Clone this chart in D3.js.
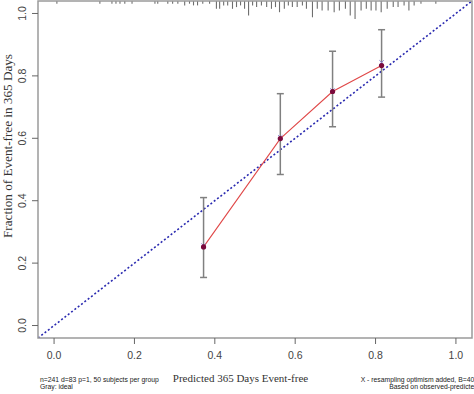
<!DOCTYPE html>
<html>
<head>
<meta charset="utf-8">
<script src="https://cdn.jsdelivr.net/npm/d3@7"></script>
<style>
  html, body { margin: 0; padding: 0; background: #fff; }
  svg { display: block; }
</style>
</head>
<body>
<svg id="chart" width="474" height="394"></svg>
<script>
// ---- data ----
const predicted = [0.372, 0.563, 0.693, 0.815];
const observed  = [0.252, 0.599, 0.750, 0.833];
const lower     = [0.154, 0.484, 0.637, 0.732];
const upper     = [0.410, 0.743, 0.879, 0.948];
const corrected = [0.256, 0.603, 0.753, 0.843];
const ticks = [0, 0.2, 0.4, 0.6, 0.8, 1.0];
const rugValues = [0.007,0.114,0.144,0.154,0.164,0.176,0.194,0.251,0.258,0.283,0.295,0.308,0.325,0.337,0.347,0.357,0.370,0.387,0.404,0.412,0.422,0.432,0.444,0.454,0.464,0.474,0.484,0.494,0.504,0.516,0.529,0.541,0.551,0.561,0.573,0.583,0.593,0.605,0.618,0.628,0.643,0.655,0.667,0.682,0.697,0.710,0.725,0.737,0.749,0.764,0.777,0.789,0.801,0.814,0.829,0.844,0.856,0.871,0.883,0.896,0.913,0.950];
const rugCounts = [1,1,1,1,1,1,1,1,1,1,1,1,2,1,2,2,1,1,4,4,2,2,4,3,2,4,8,2,3,2,3,4,3,6,4,2,3,3,2,4,9,4,5,5,6,5,4,8,10,5,4,5,5,6,4,3,3,2,5,2,1,1];
const xTitle = "Predicted 365 Days Event-free";
const yTitle = "Fraction of Event-free in 365 Days";
const noteLeft = ["n=241 d=83 p=1, 50 subjects per group", "Gray: ideal"];
const noteRight = ["X - resampling optimism added, B=400", "Based on observed-predicted"];

// ---- layout ----
const svg = d3.select("#chart");
const L = 38, R = 472, T = 1, B = 338;
const x = d3.scaleLinear().domain([-0.04, 1.04]).range([L, R]);
const y = d3.scaleLinear().domain([-0.04, 1.04]).range([B, T]);
const rugLen = d3.scaleLinear().domain([0, 10]).range([1, 18]);

svg.append("rect").attr("width", 474).attr("height", 394).attr("fill", "#fff");

svg.append("defs").append("clipPath").attr("id", "clip")
  .append("rect").attr("x", L).attr("y", T).attr("width", R - L).attr("height", B - T);

const plot = svg.append("g").attr("clip-path", "url(#clip)");

// rug spikes along top
plot.selectAll("line.rug").data(rugValues).join("line")
  .attr("class", "rug")
  .attr("x1", d => x(d)).attr("x2", d => x(d))
  .attr("y1", T).attr("y2", (d, i) => T + rugLen(rugCounts[i]))
  .attr("stroke", "#6e6e6e").attr("stroke-width", 1.1);

// ideal line
plot.append("line")
  .attr("x1", x(-0.04)).attr("y1", y(-0.04))
  .attr("x2", x(1.04)).attr("y2", y(1.04))
  .attr("stroke", "#2a2ab0").attr("stroke-width", 1.6)
  .attr("stroke-dasharray", "2,2.2");

// error bars
const eb = plot.append("g").attr("stroke", "#808080").attr("stroke-width", 1.5);
predicted.forEach((p, i) => {
  eb.append("line").attr("x1", x(p)).attr("x2", x(p)).attr("y1", y(lower[i])).attr("y2", y(upper[i]));
  eb.append("line").attr("x1", x(p) - 3.5).attr("x2", x(p) + 3.5).attr("y1", y(lower[i])).attr("y2", y(lower[i]));
  eb.append("line").attr("x1", x(p) - 3.5).attr("x2", x(p) + 3.5).attr("y1", y(upper[i])).attr("y2", y(upper[i]));
});

// red apparent line
const lineGen = d3.line().x((d, i) => x(predicted[i])).y(d => y(d));
plot.append("path").datum(observed)
  .attr("d", lineGen).attr("fill", "none")
  .attr("stroke", "#e04848").attr("stroke-width", 1.1);

// bias-corrected x markers
const xm = plot.append("g").attr("stroke", "#8a7fd8").attr("stroke-width", 1);
predicted.forEach((p, i) => {
  const cx = x(p), cy = y(corrected[i]);
  xm.append("line").attr("x1", cx - 2.2).attr("x2", cx + 2.2).attr("y1", cy - 2.2).attr("y2", cy + 2.2);
  xm.append("line").attr("x1", cx - 2.2).attr("x2", cx + 2.2).attr("y1", cy + 2.2).attr("y2", cy - 2.2);
});

// points
plot.selectAll("circle.pt").data(observed).join("circle")
  .attr("class", "pt")
  .attr("cx", (d, i) => x(predicted[i])).attr("cy", d => y(d))
  .attr("r", 2.6).attr("fill", "#7a0a3c");

// frame
svg.append("rect").attr("x", L).attr("y", T).attr("width", R - L).attr("height", B - T)
  .attr("fill", "none").attr("stroke", "#9a9a9a").attr("stroke-width", 1.5);

// x axis
const xAxis = svg.append("g");
xAxis.selectAll("line").data(ticks).join("line")
  .attr("x1", d => x(d)).attr("x2", d => x(d)).attr("y1", B).attr("y2", B + 6)
  .attr("stroke", "#666").attr("stroke-width", 1);
xAxis.selectAll("text").data(ticks).join("text")
  .attr("x", d => x(d)).attr("y", 359)
  .attr("text-anchor", "middle")
  .attr("font-family", "Liberation Sans, Arial, sans-serif").attr("font-size", 10.5)
  .attr("fill", "#444")
  .text(d => d3.format(".1f")(d));

// y axis
const yAxis = svg.append("g");
yAxis.selectAll("line").data(ticks).join("line")
  .attr("x1", L - 6).attr("x2", L).attr("y1", d => y(d)).attr("y2", d => y(d))
  .attr("stroke", "#666").attr("stroke-width", 1);
yAxis.selectAll("text").data(ticks).join("text")
  .attr("transform", d => `translate(25.5,${y(d)}) rotate(-90)`)
  .attr("text-anchor", "middle")
  .attr("font-family", "Liberation Sans, Arial, sans-serif").attr("font-size", 10.5)
  .attr("fill", "#444")
  .text(d => d3.format(".1f")(d));

// titles
svg.append("text")
  .attr("x", 240.5).attr("y", 382)
  .attr("text-anchor", "middle")
  .attr("font-family", "Liberation Serif, Times New Roman, serif").attr("font-size", 11)
  .attr("fill", "#333")
  .text(xTitle);

svg.append("text")
  .attr("transform", `translate(11.5,146) rotate(-90)`)
  .attr("text-anchor", "middle")
  .attr("font-family", "Liberation Serif, Times New Roman, serif").attr("font-size", 11.5)
  .attr("fill", "#333")
  .attr("textLength", 184).attr("lengthAdjust", "spacingAndGlyphs")
  .text(yTitle);

// notes
svg.selectAll("text.nl").data(noteLeft).join("text")
  .attr("class", "nl")
  .attr("x", 40).attr("y", (d, i) => 381.5 + i * 7)
  .attr("font-family", "Liberation Sans, Arial, sans-serif").attr("font-size", 6.8)
  .attr("fill", "#222")
  .text(d => d);

// right notes run past the image edge in the reference
svg.selectAll("text.nr").data(noteRight).join("text")
  .attr("class", "nr")
  .attr("x", 478).attr("y", (d, i) => 381.5 + i * 7)
  .attr("text-anchor", "end")
  .attr("font-family", "Liberation Sans, Arial, sans-serif").attr("font-size", 6.8)
  .attr("fill", "#222")
  .text(d => d);
</script>
</body>
</html>
